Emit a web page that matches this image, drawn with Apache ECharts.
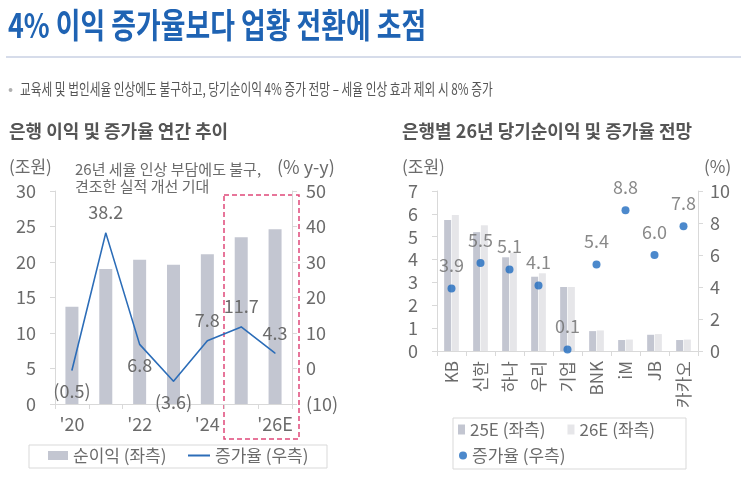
<!DOCTYPE html>
<html><head><meta charset="utf-8">
<script src="https://cdn.jsdelivr.net/npm/echarts@6/dist/echarts.min.js"></script>
<style>html,body{margin:0;padding:0;background:#fff}#c{width:743px;height:479px}</style>
</head><body><div id="c"></div>
<script>
const years = ["'20","'21","'22","'23","'24","'25","'26E"];
const netIncome = [13.7, 19.0, 20.3, 19.6, 21.1, 23.5, 24.6];
const growthYoY = [-0.5, 38.2, 6.8, -3.6, 7.8, 11.7, 4.3];
const banks = ["KB","신한","하나","우리","기업","BNK","iM","JB","카카오"];
const income25E = [5.73, 5.2, 4.1, 3.25, 2.8, 0.87, 0.48, 0.71, 0.48];
const income26E = [5.95, 5.5, 4.3, 3.4, 2.8, 0.9, 0.5, 0.74, 0.5];
const bankGrowth = [3.9, 5.5, 5.1, 4.1, 0.1, 5.4, 8.8, 6.0, 7.8];

const FONT = '"Noto Sans CJK KR", "Noto Sans", sans-serif';
const GRAY = '#6b6b6b';
const AXIS = '#d9d9d9';
const labelPos = ['bottom','top','bottom','bottom','top','top','top'];
const labelOff = [[0,0],[0,0],[0,0],[0,0],[0,0],[6,-3],[0,0]];

const chart = echarts.init(document.getElementById('c'));
const fmtNeg = v => v < 0 ? '(' + Math.abs(v) + ')' : String(v);
const axisCommon = {axisLine: {show: true, lineStyle: {color: AXIS}}, axisTick: {show: true, length: 5, lineStyle: {color: AXIS}}, splitLine: {show: false}};

chart.setOption({
  animation: false,
  textStyle: {fontFamily: FONT},
  grid: [
    {left: 55, right: 451, top: 191, bottom: 75},
    {left: 437, right: 45, top: 191, bottom: 128}
  ],
  xAxis: [
    {type: 'category', gridIndex: 0, data: years, boundaryGap: true,
     axisLine: {lineStyle: {color: AXIS}}, axisTick: {show: true, interval: 0, length: 5, lineStyle: {color: AXIS}},
     axisLabel: {interval: 1, color: GRAY, fontSize: 18, margin: 11, fontFamily: FONT}},
    {type: 'category', gridIndex: 1, data: banks, boundaryGap: true,
     axisLine: {lineStyle: {color: AXIS}}, axisTick: {show: true, interval: 0, length: 5, lineStyle: {color: AXIS}},
     axisLabel: {interval: 0, rotate: 90, color: GRAY, fontSize: 17, margin: 10, fontFamily: FONT}}
  ],
  yAxis: [
    Object.assign({type: 'value', gridIndex: 0, min: 0, max: 30, interval: 5, position: 'left',
     axisLabel: {color: GRAY, fontSize: 18, margin: 19}}, axisCommon),
    Object.assign({type: 'value', gridIndex: 0, min: -10, max: 50, interval: 10, position: 'right',
     axisLabel: {color: GRAY, fontSize: 18, margin: 14, formatter: fmtNeg}}, axisCommon),
    Object.assign({type: 'value', gridIndex: 1, min: 0, max: 7, interval: 1, position: 'left',
     axisLabel: {color: GRAY, fontSize: 18, margin: 19}}, axisCommon),
    Object.assign({type: 'value', gridIndex: 1, min: 0, max: 10, interval: 2, position: 'right',
     axisLabel: {color: GRAY, fontSize: 18, margin: 12}}, axisCommon)
  ],
  legend: [
    {left: 48, top: 447, itemWidth: 20, itemHeight: 9, padding: 0,
     textStyle: {color: GRAY, fontSize: 17, fontFamily: FONT}, data: [{name: '순이익 (좌측)', icon: 'rect'}]},
    {left: 188, top: 447, itemWidth: 22, itemHeight: 2, padding: 0,
     textStyle: {color: GRAY, fontSize: 17, fontFamily: FONT}, data: [{name: '증가율 (우측)', icon: 'rect'}]},
    {left: 458, top: 421, itemWidth: 7, itemHeight: 10, itemGap: 22, padding: 0,
     textStyle: {color: GRAY, fontSize: 17, fontFamily: FONT}, data: [
       {name: '25E (좌측)', icon: 'rect'}, {name: '26E (좌측)', icon: 'rect'}]},
    {left: 459, top: 447, itemWidth: 8, itemHeight: 8, padding: 0,
     textStyle: {color: GRAY, fontSize: 17, fontFamily: FONT}, data: [
       {name: '증가율 (우측)  ', icon: 'circle'}]}
  ],
  series: [
    {name: '순이익 (좌측)', type: 'bar', xAxisIndex: 0, yAxisIndex: 0, data: netIncome,
     barWidth: 13, itemStyle: {color: '#c3c6d1'}},
    {name: '증가율 (우측)', type: 'line', xAxisIndex: 0, yAxisIndex: 1,
     data: growthYoY.map((v, i) => ({value: v, label: {position: labelPos[i], offset: labelOff[i]}})),
     symbol: 'circle', symbolSize: 1, showSymbol: true,
     lineStyle: {color: '#2c6db8', width: 1.6}, itemStyle: {color: '#2c6db8'},
     labelLayout: {hideOverlap: false},
     label: {show: true, color: GRAY, fontSize: 18, distance: 11, formatter: p => {
       const v = p.value; return v < 0 ? '(' + Math.abs(v).toFixed(1) + ')' : v.toFixed(1);}}},
    {name: '25E (좌측)', type: 'bar', xAxisIndex: 1, yAxisIndex: 2, data: income25E,
     barWidth: 7, barGap: '10%', itemStyle: {color: '#c3c6d1'}},
    {name: '26E (좌측)', type: 'bar', xAxisIndex: 1, yAxisIndex: 2, data: income26E,
     barWidth: 7, barGap: '10%', itemStyle: {color: '#e6e6e9'}},
    {name: '증가율 (우측)  ', type: 'scatter', xAxisIndex: 1, yAxisIndex: 3, data: bankGrowth,
     symbolSize: 8, itemStyle: {color: '#1f6bbf'},
     label: {show: true, position: 'top', distance: 10, color: GRAY, fontSize: 18,
       formatter: p => p.value.toFixed(1)}}
  ],
  graphic: [
    {type: 'text', x: 8, y: 8, scaleX: 0.79, style: {text: '4% 이익 증가율보다 업황 전환에 초점', fill: '#1f63b3',
      font: 'bold 34px ' + FONT}},
    {type: 'line', shape: {x1: 6, y1: 57, x2: 741, y2: 57}, style: {stroke: '#d6dcea', lineWidth: 2}},
    {type: 'text', x: 8, y: 81, style: {text: '•', fill: '#b0b0b0', font: '15px ' + FONT}},
    {type: 'text', x: 20, y: 81, scaleX: 0.73, style: {text: '교육세 및 법인세율 인상에도 불구하고, 당기순이익 4% 증가 전망 – 세율 인상 효과 제외 시 8% 증가',
      fill: '#555', font: '16px ' + FONT}},
    {type: 'text', x: 9, y: 122, style: {text: '은행 이익 및 증가율 연간 추이', fill: '#555', font: 'bold 18px ' + FONT}},
    {type: 'text', x: 402, y: 122, style: {text: '은행별 26년 당기순이익 및 증가율 전망', fill: '#555', font: 'bold 18px ' + FONT}},
    {type: 'text', x: 9, y: 158, style: {text: '(조원)', fill: GRAY, font: '17px ' + FONT}},
    {type: 'text', x: 75, y: 161, style: {text: '26년 세율 인상 부담에도 불구,\n견조한 실적 개선 기대', fill: GRAY,
      font: '15px ' + FONT, lineHeight: 17}},
    {type: 'text', x: 277, y: 158, style: {text: '(% y-y)', fill: GRAY, font: '18px ' + FONT}},
    {type: 'text', x: 402, y: 158, style: {text: '(조원)', fill: GRAY, font: '17px ' + FONT}},
    {type: 'text', x: 704, y: 158, style: {text: '(%)', fill: GRAY, font: '17px ' + FONT}},
    {type: 'rect', shape: {x: 224, y: 195, width: 75, height: 244}, style: {fill: 'none', stroke: '#e0487a', lineWidth: 1.5, lineDash: [5, 3]}},
    {type: 'rect', shape: {x: 29, y: 445, width: 298, height: 23}, style: {fill: 'none', stroke: '#d9d9d9', lineWidth: 1}},
    {type: 'rect', shape: {x: 453, y: 418, width: 233, height: 51}, style: {fill: 'none', stroke: '#d9d9d9', lineWidth: 1}}
  ]
});
</script></body></html>
